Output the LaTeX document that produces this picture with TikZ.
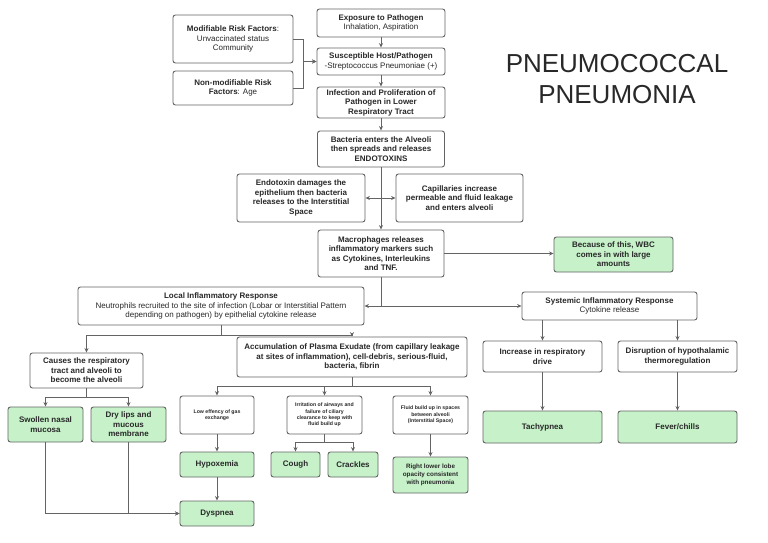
\documentclass[tikz,border=0pt]{standalone}
\usepackage{fontspec}
\setmainfont{Liberation Sans}
\usetikzlibrary{arrows.meta}
\definecolor{linegray}{RGB}{100,100,100}
\definecolor{symgreen}{RGB}{198,241,201}
\definecolor{textgray}{RGB}{40,40,40}

\begin{document}
\begin{tikzpicture}[x=1pt, y=-1pt,
    box/.style={draw=linegray, line width=0.9pt, rounded corners=2.5pt, fill=white, align=center, inner sep=1pt, text=textgray, font=\fontsize{8}{9.5}\selectfont\bfseries},
    sym/.style={box, fill=symgreen},
    smalltxt/.style={font=\fontsize{5.2}{6.4}\selectfont\bfseries},
    arr/.style={draw=linegray, line width=0.8pt, -{Stealth[length=4.5pt,width=4pt]}},
    ln/.style={draw=linegray, line width=0.8pt}]

\fill[white] (0,0) rectangle (768,543);
\useasboundingbox (0,0) rectangle (768,543);

% Title
\node[text=textgray, align=center, font=\fontsize{26}{30.5}\selectfont] (title) at (617,79) {PNEUMOCOCCAL\\PNEUMONIA};

% Exposure and risk factors
\node[box, minimum width=128, minimum height=28] (expo) at (381,23) {Exposure to Pathogen\\\textmd{Inhalation, Aspiration}};
\node[box, minimum width=120, minimum height=48] (modif) at (233,39) {Modifiable Risk Factors\textmd{:}\\\textmd{Unvaccinated status}\\\textmd{Community}};
\node[box, minimum width=120, minimum height=34] (nonmod) at (233,88) {Non-modifiable Risk\\Factors\textmd{: Age}};
\node[box, minimum width=128, minimum height=27] (susc) at (381,61.5) {Susceptible Host/Pathogen\\\textmd{-Streptococcus Pneumoniae (+)}};
\node[box, minimum width=128, minimum height=31] (infect) at (381,102.5) {Infection and Proliferation of\\Pathogen in Lower\\Respiratory Tract};

\draw[arr] (modif.east) -- ++(10,0) |- (susc.west);
\draw[arr] (nonmod.east) -- ++(10,0) |- (susc.west);
\draw[arr] (expo.south) -- (susc.north);
\draw[arr] (susc.south) -- (infect.north);

% Alveoli
\node[box, minimum width=127, minimum height=36] (bact) at (381,149) {Bacteria enters the Alveoli\\then spreads and releases\\ENDOTOXINS};
\node[box, minimum width=128, minimum height=48] (endo) at (301,198) {Endotoxin damages the\\epithelium then bacteria\\releases to the Interstitial\\Space};
\node[box, minimum width=127, minimum height=48] (capi) at (459.5,198) {Capillaries increase\\permeable and fluid leakage\\and enters alveoli};
\node[box, minimum width=126, minimum height=47] (macro) at (381,253.5) {Macrophages releases\\inflammatory markers such\\as Cytokines, Interleukins\\and TNF.};
\node[sym, minimum width=119, minimum height=35] (wbc) at (613.5,254.5) {Because of this, WBC\\comes in with large\\amounts};

\draw[arr] (infect.south) -- (bact.north);
\draw[arr] (bact.south) -- (macro.north);
\coordinate (split) at (bact.south |- endo.east);
\draw[arr] (split) -- (endo.east);
\draw[arr] (split) -- (capi.west);
\draw[arr] (macro.east) -- (macro.east -| wbc.west);

% Responses
\node[box, minimum width=286, minimum height=38] (local) at (221,306) {Local Inflammatory Response\\\textmd{Neutrophils recruited to the site of infection (Lobar or Interstitial Pattern}\\\textmd{depending on pathogen) by epithelial cytokine release}};
\node[box, minimum width=175, minimum height=28] (syst) at (609.5,306) {Systemic Inflammatory Response\\\textmd{Cytokine release}};

\draw[ln] (macro.south) -- (macro.south |- local.east) coordinate (fork);
\draw[arr] (fork) -- (local.east);
\draw[arr] (fork) -- (syst.west);

% Local branch
\node[box, minimum width=113, minimum height=35] (causes) at (86.5,370.5) {Causes the respiratory\\tract and alveoli to\\become the alveoli};
\node[box, minimum width=230, minimum height=40] (accum) at (352,357) {Accumulation of Plasma Exudate (from capillary leakage\\at sites of inflammation), cell-debris, serious-fluid,\\bacteria, fibrin};

\draw[ln] (local.south) -- ++(0,10) coordinate (lfork);
\foreach \b in {causes,accum}
    \draw[arr] (lfork) -| (\b.north);

\node[sym, minimum width=75, minimum height=35] (swollen) at (45.5,424.5) {Swollen nasal\\mucosa};
\node[sym, minimum width=75, minimum height=35] (dry) at (128.5,424.5) {Dry lips and\\mucous\\membrane};

\draw[ln] (causes.south) -- ++(0,9) coordinate (cfork);
\foreach \b in {swollen,dry}
    \draw[arr] (cfork) -| (\b.north);

\node[box, smalltxt, minimum width=74, minimum height=38] (low) at (217,415) {Low effency of gas\\exchange};
\node[box, smalltxt, minimum width=75, minimum height=38] (irrit) at (324.5,415) {Irritation of airways and\\failure of ciliary\\clearance to keep with\\fluid build up};
\node[box, smalltxt, minimum width=75, minimum height=38] (fluid) at (430.5,415) {Fluid build up in spaces\\between alveoli\\(Interstitial Space)};

\draw[ln] (accum.south) -- ++(0,9) coordinate (afork);
\foreach \b in {low,irrit,fluid}
    \draw[arr] (afork) -| (\b.north);

\node[sym, minimum width=74, minimum height=25] (hypox) at (217,464.5) {Hypoxemia};
\node[sym, minimum width=74, minimum height=25] (dysp) at (217,513.5) {Dyspnea};
\node[sym, minimum width=49, minimum height=25] (cough) at (295.5,464.5) {Cough};
\node[sym, minimum width=50, minimum height=25] (crack) at (353,464.5) {Crackles};
\node[sym, font=\fontsize{6.3}{7.8}\selectfont\bfseries, minimum width=75, minimum height=36] (rll) at (430.5,475) {Right lower lobe\\opacity consistent\\with pneumonia};

\draw[arr] (low.south) -- (hypox.north);
\draw[arr] (hypox.south) -- (dysp.north);
\foreach \b in {swollen,dry}
    \draw[arr] (\b.south) |- (dysp.west);
\draw[ln] (irrit.south) -- ++(0,8) coordinate (ifork);
\foreach \b in {cough,crack}
    \draw[arr] (ifork) -| (\b.north);
\draw[arr] (fluid.south) -- (rll.north);

% Systemic branch
\node[box, minimum width=119, minimum height=31] (incr) at (542.5,356.5) {Increase in respiratory\\drive};
\node[box, minimum width=119, minimum height=31] (disr) at (677.5,356.5) {Disruption of hypothalamic\\thermoregulation};
\node[sym, minimum width=119, minimum height=32] (tachy) at (542.5,427) {Tachypnea};
\node[sym, minimum width=119, minimum height=32] (fever) at (677.5,427) {Fever/chills};

\foreach \b in {incr,disr}
    \draw[arr] (syst.south -| \b.north) -- (\b.north);
\draw[arr] (incr.south) -- (tachy.north);
\draw[arr] (disr.south) -- (fever.north);

\end{tikzpicture}
\end{document}
